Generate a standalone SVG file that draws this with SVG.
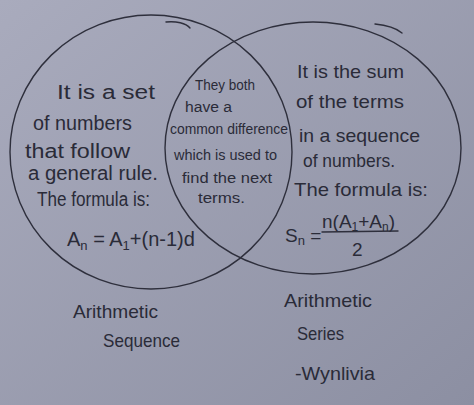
<svg xmlns="http://www.w3.org/2000/svg" width="474" height="405" viewBox="0 0 474 405">
<defs>
<linearGradient id="bg" x1="0" y1="0" x2="1" y2="1">
<stop offset="0" stop-color="#a9abbd"/>
<stop offset="1" stop-color="#8c8fa2"/>
</linearGradient>
</defs>
<style>
.ink{fill:none;stroke:#2e2f3c;stroke-width:1.4;stroke-linecap:round}
text{font-family:"Liberation Sans","DejaVu Sans",sans-serif;fill:#2a2b38}
.l{font-size:20px}
.c{font-size:14px}
.r{font-size:19px}
.lab{font-size:19px}
</style>
<rect width="474" height="405" fill="url(#bg)"/>
<g id="circles">
<ellipse class="ink" cx="151" cy="152" rx="141" ry="137"/>
<path class="ink" d="M166,22 C176,21 186,23 190,28"/>
<ellipse class="ink" cx="313" cy="148" rx="148" ry="126"/>
<path class="ink" d="M375,24 C386,25 396,28 402,33"/>
</g>
<g id="sequence">
<text class="l" x="57" y="99" textLength="98" lengthAdjust="spacingAndGlyphs">It is a set</text>
<text class="l" x="33" y="130" textLength="99" lengthAdjust="spacingAndGlyphs">of numbers</text>
<text class="l" x="25" y="158" textLength="105" lengthAdjust="spacingAndGlyphs">that follow</text>
<text class="l" x="28" y="180" textLength="130" lengthAdjust="spacingAndGlyphs">a general rule.</text>
<text class="l" x="37" y="206" textLength="113" lengthAdjust="spacingAndGlyphs">The formula is:</text>
<text class="l" x="67" y="246">A<tspan font-size="13" dy="4">n</tspan><tspan dy="-4"> = A</tspan><tspan font-size="13" dy="4">1</tspan><tspan dy="-4">+(n-1)d</tspan></text>
</g>
<g id="both">
<text class="c" x="195" y="90" textLength="60" lengthAdjust="spacingAndGlyphs">They both</text>
<text class="c" x="185" y="112" textLength="47" lengthAdjust="spacingAndGlyphs">have a</text>
<text class="c" x="170" y="134" textLength="118" lengthAdjust="spacingAndGlyphs">common difference</text>
<text class="c" x="174" y="160" textLength="103" lengthAdjust="spacingAndGlyphs">which is used to</text>
<text class="c" x="182" y="183" textLength="90" lengthAdjust="spacingAndGlyphs">find the next</text>
<text class="c" x="198" y="203" textLength="47" lengthAdjust="spacingAndGlyphs">terms.</text>
</g>
<g id="series">
<text class="r" x="297" y="78" textLength="107" lengthAdjust="spacingAndGlyphs">It is the sum</text>
<text class="r" x="296" y="108" textLength="108" lengthAdjust="spacingAndGlyphs">of the terms</text>
<text class="r" x="299" y="142" textLength="121" lengthAdjust="spacingAndGlyphs">in a sequence</text>
<text class="r" x="303" y="167" textLength="92" lengthAdjust="spacingAndGlyphs">of numbers.</text>
<text class="r" x="294" y="196" textLength="134" lengthAdjust="spacingAndGlyphs">The formula is:</text>
<text class="r" x="285" y="242">S<tspan font-size="13" dy="3">n</tspan><tspan dy="-3"> =</tspan></text>
<text class="r" x="322" y="228">n(A<tspan font-size="12" dy="3">1</tspan><tspan dy="-3">+A</tspan><tspan font-size="12" dy="3">n</tspan><tspan dy="-3">)</tspan></text>
<path class="ink" d="M322,232 L398,231"/>
<text class="r" x="352" y="256">2</text>
</g>
<g id="labels">
<text class="lab" x="73" y="318" textLength="85" lengthAdjust="spacingAndGlyphs">Arithmetic</text>
<text class="lab" x="103" y="347" textLength="77" lengthAdjust="spacingAndGlyphs">Sequence</text>
<text class="lab" x="284" y="307" textLength="88" lengthAdjust="spacingAndGlyphs">Arithmetic</text>
<text class="lab" x="297" y="340" textLength="47" lengthAdjust="spacingAndGlyphs">Series</text>
<text class="lab" x="295" y="380" textLength="80" lengthAdjust="spacingAndGlyphs">-Wynlivia</text>
</g>
<g id="connectors"/>
</svg>
